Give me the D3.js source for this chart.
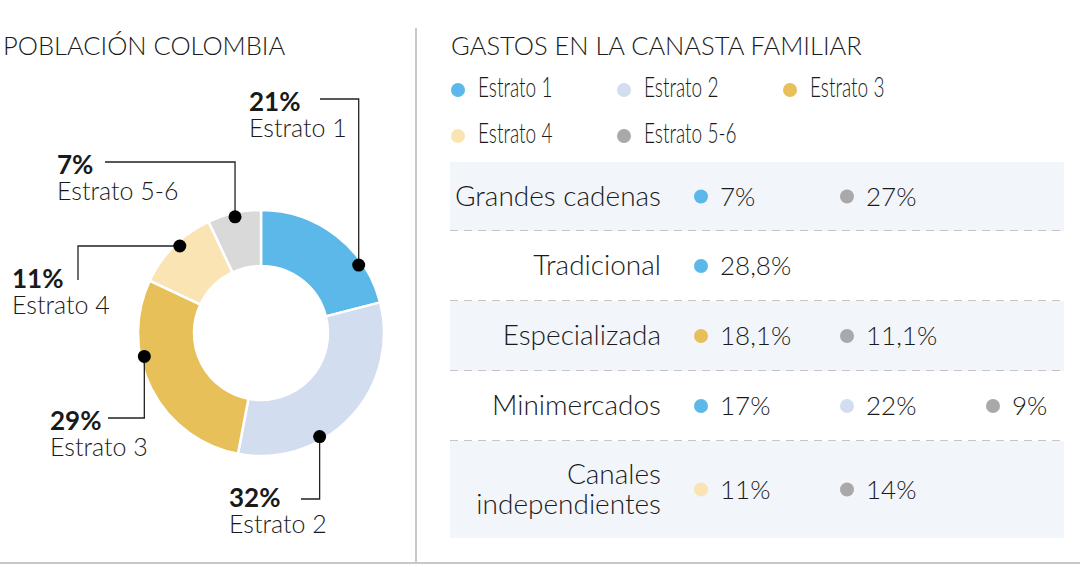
<!DOCTYPE html>
<html>
<head>
<meta charset="utf-8">
<script src="https://cdn.jsdelivr.net/npm/d3@7"></script>
<style>
  body { margin: 0; background: #fff; }
  svg { display: block; }
  text { fill: #1a1a1a; }
  .main { font-family: Lato, "Open Sans", sans-serif; font-weight: 300; }
  .cond { font-family: Lato, "Open Sans", sans-serif; font-weight: 300; }
</style>
</head>
<body>
<div class="chart"></div>
<script>
// --- data ---
const strata = ["Estrato 1", "Estrato 2", "Estrato 3", "Estrato 4", "Estrato 5-6"];
const population = [21, 32, 29, 11, 7];

const channels = ["Grandes cadenas", "Tradicional", "Especializada", "Minimercados", "Canales\nindependientes"];
const channelStrata = [[0, 4], [0], [2, 4], [0, 1, 4], [3, 4]];
const channelValues = [[7, 27], [28.8], [18.1, 11.1], [17, 22, 9], [11, 14]];

// --- styles ---
const dotColors = ["#5cb8e8", "#d3ddf0", "#e8c05a", "#fbe4b4", "#a9a9ab"];
const sliceColors = ["#5cb8e8", "#d3ddf0", "#e8c05a", "#fbe4b4", "#d9d9d9"];

const width = 1080, height = 567;
const svg = d3.select(".chart").append("svg")
    .attr("width", width)
    .attr("height", height);

const es = d3.formatLocale({decimal: ",", thousands: ".", grouping: [3], currency: ["$", ""]});
const fmt = v => es.format(",")(v) + "%";

// frame lines
svg.append("line")
    .attr("x1", 416).attr("x2", 416).attr("y1", 28).attr("y2", 563)
    .attr("stroke", "#c8c8c8").attr("stroke-width", 2);
svg.append("line")
    .attr("x1", 0).attr("x2", width).attr("y1", 563).attr("y2", 563)
    .attr("stroke", "#c8c8c8").attr("stroke-width", 2);

// titles
svg.append("text").attr("class", "main")
    .attr("x", 3).attr("y", 55)
    .style("font-size", "25.5px")
    .text("POBLACIÓN COLOMBIA");
svg.append("text").attr("class", "main")
    .attr("x", 451).attr("y", 55)
    .style("font-size", "25.5px")
    .text("GASTOS EN LA CANASTA FAMILIAR");

// ---------- donut ----------
const cx = 261, cy = 333;
const outerR = 123, innerR = 67;
const pie = d3.pie().sort(null).value(d => d);
const arcs = pie(population);
const arc = d3.arc().innerRadius(innerR).outerRadius(outerR);

const donut = svg.append("g").attr("transform", "translate(" + cx + "," + cy + ")");
donut.selectAll("path")
    .data(arcs)
    .enter().append("path")
    .attr("d", arc)
    .attr("fill", (d, i) => sliceColors[i])
    .attr("stroke", "#fff")
    .attr("stroke-width", 2.5);

// annotation layout: where the dot sits inside the slice, and how the leader runs
const dotFrac = [0.73, 0.65, 0.65, 0.55, 0.5];
const labelLayout = [
    {tx: 249, ty: 111, mode: "v", lineY: 99, endX: 320},
    {tx: 229, ty: 507, mode: "v", lineY: 499, endX: 301},
    {tx: 50, ty: 430, mode: "v", lineY: 418, endX: 108},
    {tx: 12, ty: 288, mode: "h", lineX: 78, endY: 280},
    {tx: 57, ty: 174, mode: "v", lineY: 162, endX: 105}
];

arcs.forEach(function(a, i) {
    const ang = a.startAngle + dotFrac[i] * (a.endAngle - a.startAngle);
    const r = outerR - 4;
    const px = cx + r * Math.sin(ang);
    const py = cy - r * Math.cos(ang);
    const L = labelLayout[i];
    const p = d3.path();
    p.moveTo(px, py);
    if (L.mode === "v") {
        p.lineTo(px, L.lineY);
        p.lineTo(L.endX, L.lineY);
    } else {
        p.lineTo(L.lineX, py);
        p.lineTo(L.lineX, L.endY);
    }
    svg.append("path")
        .attr("d", p.toString())
        .attr("fill", "none")
        .attr("stroke", "#222")
        .attr("stroke-width", 1.3);
    svg.append("circle")
        .attr("cx", px).attr("cy", py).attr("r", 6.5)
        .attr("fill", "#000");
    svg.append("text").attr("class", "main")
        .attr("x", L.tx).attr("y", L.ty)
        .style("font-size", "26px")
        .style("font-weight", 700)
        .text(population[i] + "%");
    svg.append("text").attr("class", "main")
        .attr("x", L.tx).attr("y", L.ty + 26)
        .style("font-size", "25px")
        .text(strata[i]);
});

// ---------- legend ----------
const legendX = [458, 624, 790];
const legendY = [90, 136];
const legend = svg.selectAll(".legend")
    .data(strata)
    .enter().append("g")
    .attr("class", "legend")
    .attr("transform", (d, i) => "translate(" + legendX[i % 3] + "," + legendY[Math.floor(i / 3)] + ")");
legend.append("circle")
    .attr("r", 7)
    .attr("fill", (d, i) => dotColors[i]);
// condensed look: horizontally squeezed light text
legend.append("text").attr("class", "cond")
    .attr("transform", "translate(20,7) scale(0.68,1)")
    .style("font-size", "28px")
    .text(d => d);

// ---------- table ----------
const rowHeights = [69, 70, 70, 70, 97];
const tableTop = 162, tableLeft = 450, tableRight = 1064;
const rowTop = rowHeights.map((h, i) => tableTop + d3.sum(rowHeights.slice(0, i)));
const slotX = [701, 847, 993];

const rows = svg.selectAll(".row")
    .data(channels)
    .enter().append("g")
    .attr("class", "row")
    .attr("transform", (d, i) => "translate(0," + rowTop[i] + ")");

rows.append("rect")
    .attr("x", tableLeft).attr("width", tableRight - tableLeft)
    .attr("height", (d, i) => rowHeights[i])
    .attr("fill", (d, i) => i % 2 === 0 ? "#f2f5fa" : "#fff");

rows.filter((d, i) => i < channels.length - 1)
    .append("line")
    .attr("x1", tableLeft).attr("x2", tableRight)
    .attr("y1", (d, i) => rowHeights[i]).attr("y2", (d, i) => rowHeights[i])
    .attr("stroke", "#b4b4b4").attr("stroke-width", 1.3)
    .attr("stroke-dasharray", "8,6");

rows.each(function(name, i) {
    const g = d3.select(this);
    const mid = rowHeights[i] / 2;
    const lines = name.split("\n");
    const t = g.append("text").attr("class", "main")
        .attr("text-anchor", "end")
        .style("font-size", "28px");
    lines.forEach(function(ln, k) {
        t.append("tspan")
            .attr("x", 661)
            .attr("y", mid + 9 + (k - (lines.length - 1) / 2) * 30)
            .text(ln);
    });
    channelValues[i].forEach(function(v, j) {
        g.append("circle")
            .attr("cx", slotX[j]).attr("cy", mid)
            .attr("r", 7)
            .attr("fill", dotColors[channelStrata[i][j]]);
        g.append("text").attr("class", "main")
            .attr("x", slotX[j] + 19).attr("y", mid + 9)
            .style("font-size", "26px")
            .text(fmt(v));
    });
});
</script>
</body>
</html>
